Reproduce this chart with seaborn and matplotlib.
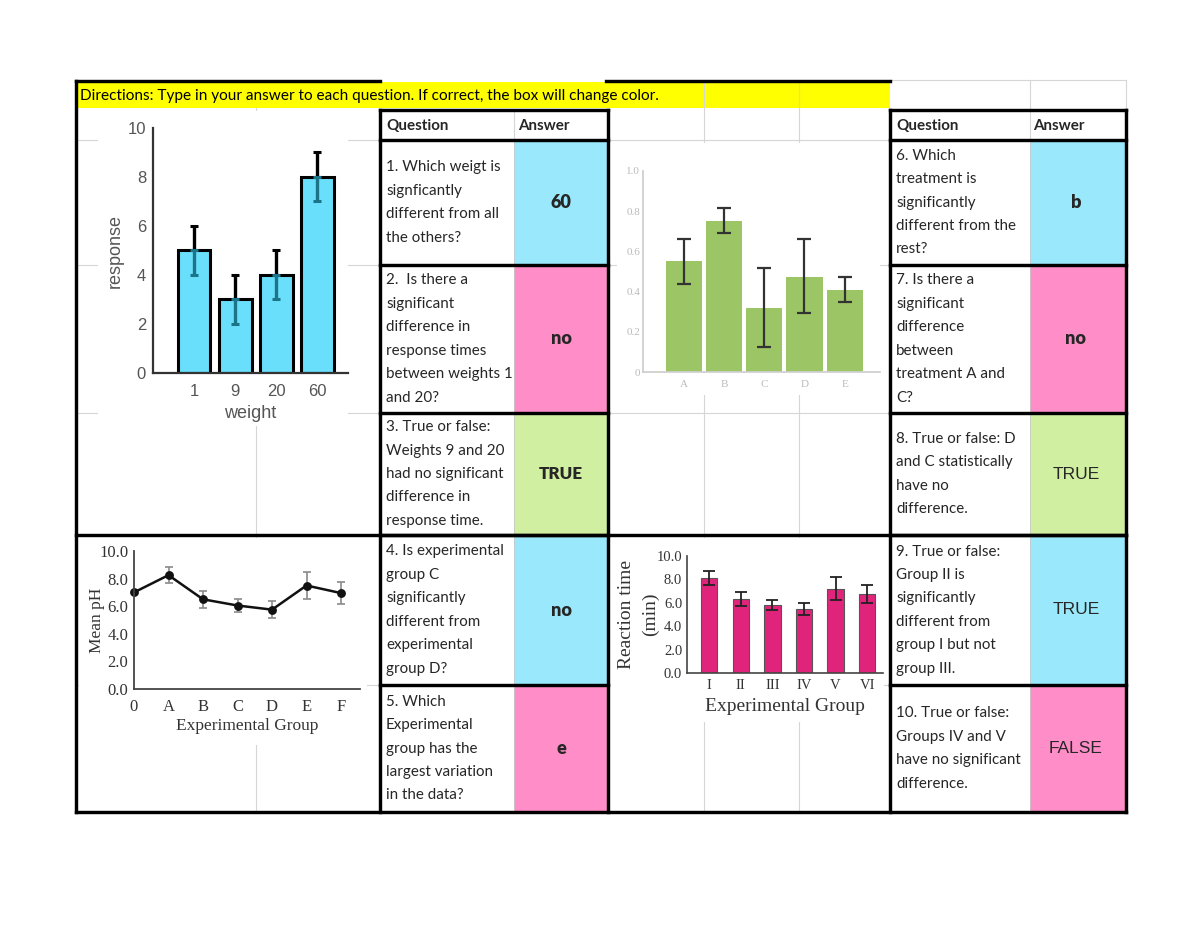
import matplotlib
matplotlib.use("Agg")
import matplotlib.pyplot as plt
import seaborn as sns
import numpy as np
import pandas as pd
from matplotlib.patches import Rectangle

# ---------------- data ----------------
weights = ["1", "9", "20", "60"]
response = [5, 3, 4, 8]
response_err = [1, 1, 1, 1]

treatments = ["A", "B", "C", "D", "E"]
treat_vals = [0.55, 0.75, 0.32, 0.475, 0.41]
treat_lo = [0.44, 0.69, 0.125, 0.295, 0.35]
treat_hi = [0.66, 0.815, 0.515, 0.66, 0.475]

ph_groups = ["0", "A", "B", "C", "D", "E", "F"]
ph_vals = [7.0, 8.25, 6.5, 6.05, 5.75, 7.5, 6.95]
ph_err = [0.0, 0.6, 0.6, 0.45, 0.6, 1.0, 0.8]

rt_groups = ["I", "II", "III", "IV", "V", "VI"]
rt_vals = [8.1, 6.3, 5.8, 5.5, 7.2, 6.75]
rt_err = [0.6, 0.6, 0.4, 0.5, 1.0, 0.75]

directions = "Directions: Type in your answer to each question. If correct, the box will change color."

questions_left = [
    ["1. Which weigt is", "signficantly", "different from all", "the others?"],
    ["2.  Is there a", "significant", "difference in", "response times", "between weights 1", "and 20?"],
    ["3. True or false:", "Weights 9 and 20", "had no significant", "difference in", "response time."],
    ["4. Is experimental", "group C", "significantly", "different from", "experimental", "group D?"],
    ["5. Which", "Experimental", "group has the", "largest variation", "in the data?"],
]
answers_left = ["60", "no", "TRUE", "no", "e"]
questions_right = [
    ["6. Which", "treatment is", "significantly", "different from the", "rest?"],
    ["7. Is there a", "significant", "difference", "between", "treatment A and", "C?"],
    ["8. True or false: D", "and C statistically", "have no", "difference."],
    ["9. True or false:", "Group II is", "significantly", "different from", "group I but not", "group III."],
    ["10. True or false:", "Groups IV and V", "have no significant", "difference."],
]
answers_right = ["b", "no", "TRUE", "TRUE", "FALSE"]
answer_colors = ["#9AE8FB", "#FF8DC8", "#D1EFA0", "#9AE8FB", "#FF8DC8"]

# ---------------- figure / background sheet ----------------
sns.set_style("white")
plt.rcParams["font.family"] = ["DejaVu Sans"]
W, H = 1200, 927
fig = plt.figure(figsize=(12, 9.27), dpi=100)
bg = fig.add_axes([0, 0, 1, 1])
bg.set_xlim(0, W)
bg.set_ylim(H, 0)
bg.axis("off")
renderer = fig.canvas.get_renderer()

PX = 0.72  # points per pixel
GRID = "#D6D6D6"
THICK = 3.4 * PX


def rect(x0, y0, x1, y1, color, z=1):
    bg.add_patch(Rectangle((x0, y0), x1 - x0, y1 - y0, facecolor=color,
                           edgecolor="none", zorder=z))


def line(x0, y0, x1, y1, color="black", lw=THICK, z=5):
    bg.plot([x0, x1], [y0, y1], color=color, lw=lw, zorder=z,
            solid_capstyle="projecting")


row_edges = [140, 265, 413, 535, 685, 812]

rect(76, 82, 890, 108, "#FFFF00", 1)

for i in range(5):
    y0, y1 = row_edges[i], row_edges[i + 1]
    rect(514, y0, 608, y1, answer_colors[i], 1)
    rect(1030, y0, 1126, y1, answer_colors[i], 1)

for x in (256,):
    line(x, 108, x, 812, GRID, 1.1 * PX, 2)
for x in (704, 799):
    line(x, 82, x, 812, GRID, 1.1 * PX, 2)
for y in (140, 265, 413, 685):
    line(76, y, 380, y, GRID, 1.1 * PX, 2)
    line(608, y, 890, y, GRID, 1.1 * PX, 2)
line(890, 80, 1126, 80, GRID, 1.1 * PX, 2)
line(1030, 80, 1030, 140, GRID, 1.1 * PX, 2)
line(1126, 80, 1126, 110, GRID, 1.1 * PX, 2)
line(514, 110, 514, 140, GRID, 1.1 * PX, 2)
line(514, 140, 514, 812, "#C8C8C8", 0.8 * PX, 2)
line(1030, 140, 1030, 812, "#C8C8C8", 0.8 * PX, 2)

rect(98, 111, 348, 426, "white", 3)
rect(617, 143, 880, 395, "white", 3)
rect(79, 538, 367, 745, "white", 3)
rect(611, 538, 884, 722, "white", 3)

line(76, 81, 380, 81)
line(606, 81, 890, 81)
line(380, 110, 608, 110)
line(890, 110, 1126, 110)
line(76, 81, 76, 812)
line(1126, 110, 1126, 812)
line(76, 812, 1126, 812)
line(380, 110, 380, 812)
line(608, 110, 608, 812)
line(890, 110, 890, 812)
line(76, 535, 1126, 535)
for y in row_edges[:-1]:
    line(380, y, 608, y)
    line(890, y, 1126, y)


# ---------------- sheet text ----------------
def fitted_size(s, family, weight, target_px, base=10.0):
    t = bg.text(0, 0, s, fontsize=base, family=family, weight=weight)
    w = t.get_window_extent(renderer).width
    t.remove()
    return base * target_px / w


TXT = "Lato"
q_size = fitted_size("had no significant", TXT, "normal", 117)
d_size = fitted_size(directions, TXT, "normal", 583)

bg.text(80, 96, directions, fontsize=d_size, family=TXT, va="center",
        ha="left", color="black", zorder=6)

for xq, xa in ((386, 518), (896, 1033)):
    bg.text(xq, 126, "Question", fontsize=q_size, family=TXT, weight="bold",
            va="center", ha="left", zorder=6)
    bg.text(xa, 126, "Answer", fontsize=q_size, family=TXT, weight="bold",
            va="center", ha="left", zorder=6)

PITCH = 23.4
for qs, ans, xq, xa, tf in ((questions_left, answers_left, 386, 561, False),
                            (questions_right, answers_right, 896, 1076, True)):
    for i, lines in enumerate(qs):
        y0, y1 = row_edges[i], row_edges[i + 1]
        yc = (y0 + y1) / 2
        n = len(lines)
        for k, s in enumerate(lines):
            yy = yc + (k - (n - 1) / 2) * PITCH
            bg.text(xq, yy, s, fontsize=q_size, family=TXT, va="center",
                    ha="left", zorder=6)
        a = ans[i]
        if tf and a in ("TRUE", "FALSE"):
            bg.text(xa, yc, a, fontsize=12.5, family="Liberation Sans",
                    va="center", ha="center", zorder=6)
        else:
            bg.text(xa, yc, a, fontsize=q_size * 1.12 if a == "TRUE" else q_size * 1.2,
                    family=TXT, weight="heavy", va="center", ha="center", zorder=6)


def px_axes(l, t, r, b):
    return fig.add_axes([l / W, 1 - b / H, (r - l) / W, (b - t) / H])


# ---------------- chart 1: response vs weight ----------------
ax1 = px_axes(153, 128, 348, 373)
ax1.set_facecolor("none")
sns.barplot(x=weights, y=response, color="#69DFFB", saturation=1, width=0.8,
            edgecolor="black", linewidth=2.2, errorbar=None, ax=ax1, zorder=2)
xs = np.arange(len(weights))
ax1.errorbar(xs, response, yerr=[[0] * 4, response_err], fmt="none",
             ecolor="black", elinewidth=2.4, capsize=3, capthick=2.2, zorder=3)
ax1.errorbar(xs, response, yerr=[response_err, [0] * 4], fmt="none",
             ecolor="#1C7488", elinewidth=2.4, capsize=3, capthick=2.2, zorder=3)
ax1.set_ylim(0, 10)
ax1.set_xlim(-1.0, 3.75)
ax1.set_yticks([0, 2, 4, 6, 8, 10])
for s in ("top", "right"):
    ax1.spines[s].set_visible(False)
for s in ("left", "bottom"):
    ax1.spines[s].set_color("#333333")
    ax1.spines[s].set_linewidth(1.6)
ax1.tick_params(direction="in", length=4, width=1.4, color="#333333",
                labelcolor="#555555", labelsize=12,
                labelfontfamily="Liberation Sans")
ax1.tick_params(axis="x", pad=8)
ax1.tick_params(axis="y", pad=5)
ax1.set_ylabel("response", fontsize=13, color="#555555",
               family="Liberation Sans", labelpad=3)
ax1.set_xlabel("weight", fontsize=13, color="#555555",
               family="Liberation Sans", labelpad=4)

# ---------------- chart 2: treatments ----------------
ax2 = px_axes(643, 171, 880, 372)
ax2.set_facecolor("none")
sns.barplot(x=treatments, y=treat_vals, color="#9CC566", saturation=1,
            width=0.9, edgecolor="none", errorbar=None, ax=ax2)
tv = np.array(treat_vals)
ax2.errorbar(np.arange(5), tv, yerr=[tv - np.array(treat_lo), np.array(treat_hi) - tv],
             fmt="none", ecolor="#333333", elinewidth=1.6, capsize=5,
             capthick=1.6, zorder=3)
ax2.set_ylim(0, 1.0)
ax2.set_xlim(-1.02, 4.88)
ax2.set_yticks([0, 0.2, 0.4, 0.6, 0.8, 1.0])
ax2.set_yticklabels(["0", "0.2", "0.4", "0.6", "0.8", "1.0"])
for s in ("top", "right"):
    ax2.spines[s].set_visible(False)
for s in ("left", "bottom"):
    ax2.spines[s].set_color("#D0D0D0")
    ax2.spines[s].set_linewidth(1.3)
ax2.tick_params(axis="y", direction="in", length=3, color="#D0D0D0",
                labelcolor="#BBBBBB", labelsize=8,
                labelfontfamily="Liberation Serif", pad=2)
ax2.tick_params(axis="x", length=0, labelcolor="#BBBBBB", labelsize=8,
                labelfontfamily="Liberation Serif", pad=6)
ax2.set_xlabel("")
ax2.set_ylabel("")

# ---------------- chart 3: mean pH ----------------
ax3 = px_axes(134, 551, 360, 689)
ax3.set_facecolor("none")
sns.pointplot(x=ph_groups, y=ph_vals, color="#111111", markers="o",
              markersize=5, linewidth=1.8, errorbar=None, ax=ax3)
ax3.errorbar(np.arange(1, 7), ph_vals[1:], yerr=ph_err[1:], fmt="none",
             ecolor="#8A8A8A", elinewidth=1.2, capsize=3, capthick=1.2, zorder=1)
for ln in ax3.lines:
    ln.set_clip_on(False)
for c in ax3.collections:
    c.set_clip_on(False)
ax3.set_xlim(0, 6.55)
ax3.set_ylim(0, 10)
ax3.set_yticks([0, 2, 4, 6, 8, 10])
ax3.set_yticklabels(["0.0", "2.0", "4.0", "6.0", "8.0", "10.0"])
ax3.set_yticks([1, 3, 5, 7, 9], minor=True)
for s in ("top", "right"):
    ax3.spines[s].set_visible(False)
for s in ("left", "bottom"):
    ax3.spines[s].set_color("#444444")
    ax3.spines[s].set_linewidth(1.3)
ax3.tick_params(which="major", direction="inout", length=6, width=1.0,
                color="#555555", labelcolor="#333333", labelsize=12,
                labelfontfamily="Liberation Serif")
ax3.tick_params(which="minor", axis="y", direction="inout", length=4,
                width=0.9, color="#777777")
ax3.tick_params(axis="y", pad=1)
ax3.tick_params(axis="x", pad=4)
ax3.set_ylabel("Mean pH", fontsize=12.5, family="Liberation Serif",
               color="#333333", labelpad=-4)
ax3.set_xlabel("Experimental Group", fontsize=12.5, family="Liberation Serif",
               color="#333333", labelpad=2)

# ---------------- chart 4: reaction time ----------------
ax4 = px_axes(687, 556, 883, 673)
ax4.set_facecolor("none")
sns.barplot(x=rt_groups, y=rt_vals, color="#E0247C", saturation=1, width=0.52,
            edgecolor="#555555", linewidth=0.8, errorbar=None, ax=ax4)
ax4.errorbar(np.arange(6), rt_vals, yerr=rt_err, fmt="none", ecolor="#222222",
             elinewidth=1.3, capsize=4, capthick=1.3, zorder=3)
ax4.set_ylim(0, 10)
ax4.set_xlim(-0.7, 5.5)
ax4.set_yticks([0, 2, 4, 6, 8, 10])
ax4.set_yticklabels(["0.0", "2.0", "4.0", "6.0", "8.0", "10.0"])
ax4.set_yticks([1, 3, 5, 7, 9], minor=True)
for s in ("top", "right"):
    ax4.spines[s].set_visible(False)
for s in ("left", "bottom"):
    ax4.spines[s].set_color("#444444")
    ax4.spines[s].set_linewidth(1.2)
ax4.tick_params(which="major", direction="inout", length=5, width=1.0,
                color="#555555", labelcolor="#333333", labelsize=10.5,
                labelfontfamily="Liberation Serif")
ax4.tick_params(which="minor", axis="y", direction="inout", length=3,
                width=0.9, color="#777777")
ax4.tick_params(axis="y", pad=1)
ax4.tick_params(axis="x", pad=2)
ax4.set_ylabel("Reaction time\n(min)", fontsize=14, family="Liberation Serif",
               color="#333333", labelpad=-2, linespacing=1.5)
ax4.set_xlabel("Experimental Group", fontsize=14, family="Liberation Serif",
               color="#333333", labelpad=4)

fig.savefig("out.png", dpi=100)
